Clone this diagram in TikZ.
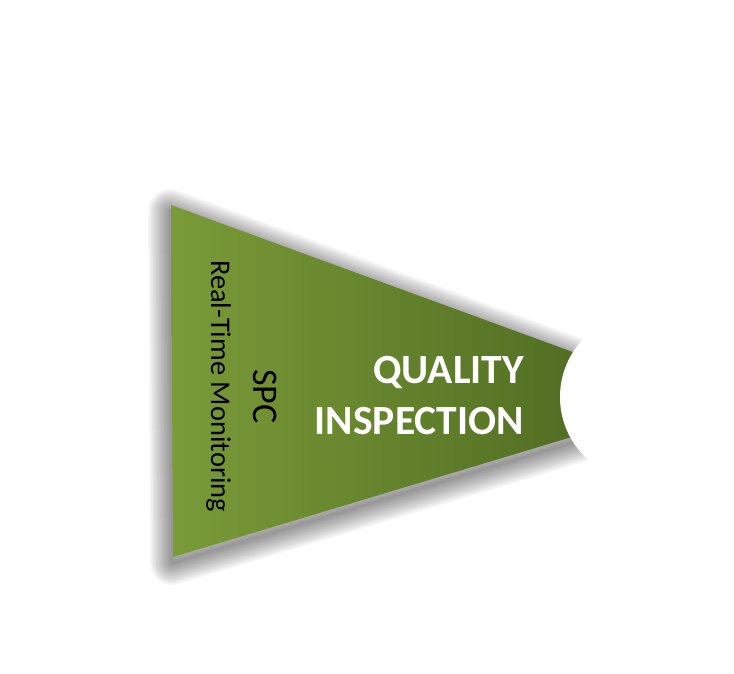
\documentclass[tikz,border=0pt]{standalone}
\usepackage{fontspec}
\setmainfont{Carlito}
\definecolor{gleft}{HTML}{7A9B38}
\definecolor{gright}{HTML}{4E6921}
\tikzset{
  wedge/.style={left color=gleft, right color=gright, draw=none},
  shadowlayer/.style={draw=black, line join=round, draw opacity=0.032},
  bigtext/.style={text=white, font=\bfseries\fontsize{41.5}{50}\selectfont, inner sep=0pt},
  sidetext/.style={text=black, rotate=-90, inner sep=0pt}
}
\begin{document}
\begin{tikzpicture}[x=1pt,y=-1pt]
\useasboundingbox[fill=white] (0,0) rectangle (734,673);
\foreach \w in {2,5,...,44} {
  \path[shadowlayer, line width=\w pt, shift={(-1,6)}]
    (171,205) -- (620,369.3) -- (620,422.5) -- (173,557) -- cycle;
}
\path[wedge] (171,205) -- (620,369.3) -- (620,422.5) -- (173,557) -- cycle;
\fill[white] (644,397) circle (84);
\node[bigtext, anchor=base east] (q1) at (524,383) {QUALITY};
\node[bigtext, anchor=base east] (q2) at (524,434) {INSPECTION};
\node[sidetext, anchor=base, font=\fontsize{36}{40}\selectfont] (spc) at (253,396.5) {SPC};
\node[sidetext, anchor=base, font=\fontsize{28.5}{32}\selectfont] (rtm) at (211,386) {Real-Time Monitoring};
\end{tikzpicture}
\end{document}
